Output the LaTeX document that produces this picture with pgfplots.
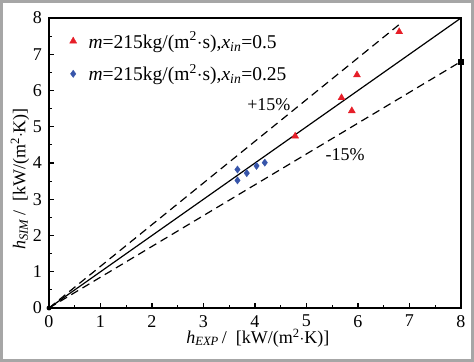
\documentclass[border=0pt]{standalone}
\usepackage{fontspec}
\setmainfont{Liberation Serif}
\usepackage{pgfplots}
\pgfplotsset{compat=1.18}
\definecolor{mred}{RGB}{230,30,40}
\definecolor{mblue}{RGB}{55,85,170}
\newcommand{\fs}{\fontsize{18bp}{21bp}\selectfont}
\newcommand{\fl}{\fontsize{19.5bp}{23bp}\selectfont}
\begin{document}
\fs
\begin{tikzpicture}
\useasboundingbox (-49bp,-54bp) rectangle (425bp,308bp);
\begin{axis}[
  scale only axis, width=412bp, height=290bp,
  at={(0,0)}, anchor=south west,
  xmin=0, xmax=8, ymin=0, ymax=8,
  xtick={0,1,...,8}, ytick={0,1,...,8},
  minor tick num=1,
  tick pos=left, tick align=inside,
  major tick length=5bp, minor tick length=3bp,
  axis line style={line width=1.7bp},
  every tick/.style={line width=1.2bp, black},
  /pgf/number format/assume math mode=true,
  xticklabel={\fs\pgfmathprintnumber{\tick}},
  yticklabel={\fs\pgfmathprintnumber{\tick}},
  xticklabel style={yshift=-1bp},
  yticklabel style={xshift=-1bp},
  xlabel={\fs\textit{h}\textsubscript{\textit{EXP}}\,/\ \ [kW/(m\textsuperscript{2}$\cdot$K)]},
  ylabel={\fs\textit{h}\textsubscript{\textit{SIM}}\,/\ \ [kW/(m\textsuperscript{2}$\cdot$K)]},
  xlabel style={at={(axis description cs:0.507,0)}, anchor=center, yshift=-30bp},
  ylabel style={at={(axis description cs:-0.0704,0.445)}, anchor=center},
  legend style={at={(axis description cs:0.045,0.968)}, anchor=north west, draw=none, fill=none,
    row sep=9.5bp, inner sep=2bp},
  legend cell align=left,
  clip=false,
]
\addplot[only marks, mark=triangle*, mark size=4bp, color=mred] coordinates {
  (4.78,4.74) (5.68,5.80) (5.88,5.44) (5.98,6.43) (6.80,7.62)
};
\addlegendentry{\hspace*{10bp}\fl\textit{m}=215kg/(m\textsuperscript{2}$\cdot$s),\textit{x}\textsubscript{\textit{in}}=0.5}
\addplot[only marks, mark=diamond*, mark size=3.6bp, color=mblue] coordinates {
  (3.66,3.82) (3.66,3.52) (3.84,3.72) (4.03,3.92) (4.19,4.01)
};
\addlegendentry{\hspace*{10bp}\fl\textit{m}=215kg/(m\textsuperscript{2}$\cdot$s),\textit{x}\textsubscript{\textit{in}}=0.25}
\addplot[black, line width=1.2bp, forget plot] coordinates {(0,0) (8,8)};
\addplot[black, line width=1.2bp, dash pattern=on 8bp off 5bp, forget plot] coordinates {(0,0) (6.8,7.82)};
\addplot[black, line width=1.2bp, dash pattern=on 8bp off 5bp, forget plot] coordinates {(0,0) (8,6.8)};
\addplot[only marks, mark=*, mark size=2.2bp, black, forget plot] coordinates {(0,0)};
\addplot[only marks, mark=square*, mark size=2.4bp, black, forget plot] coordinates {(8,6.8)};
\node[font=\fs] at (axis cs:4.27,5.60) {+15\%};
\node[font=\fs] at (axis cs:5.75,4.22) {-15\%};
\end{axis}
\draw[gray!70, line width=3bp] (-47.5bp,-52.5bp) rectangle (423.5bp,306.5bp);
\end{tikzpicture}
\end{document}
